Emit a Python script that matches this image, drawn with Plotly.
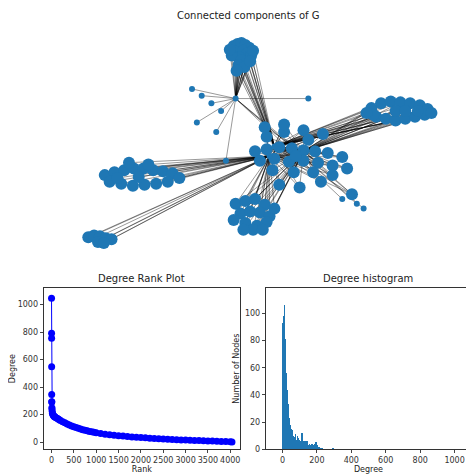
import plotly.graph_objects as go

# ---------- Network (approximate node positions, pixel-like coords) ----------
cluster_top_x = [228,232,236,240,244,230,238,242,234,226,246,236,233,239,224,248,231,245]
cluster_top_y = [40,38,37,39,42,46,45,48,52,50,50,55,60,62,44,45,66,56]
cluster_right_x = [370,380,390,400,410,420,428,375,385,395,405,415,425,395,405,372,432,365,418]
cluster_right_y = [105,100,98,99,100,102,106,114,116,118,116,114,112,108,108,112,110,110,108]
cluster_center_x = [250,262,275,288,300,312,325,340,255,270,285,300,315,330,345,268,290,310,330,262,280,300,320,275,296,318,260,280,350,305,292]
cluster_center_y = [150,148,146,147,149,150,152,156,160,158,161,160,162,165,168,170,172,172,175,135,130,128,132,185,188,182,125,122,195,138,155]
cluster_left_x = [95,105,115,125,135,145,155,165,100,112,124,136,148,160,172,120,140,130,108]
cluster_left_y = [175,172,170,168,168,170,171,173,182,184,186,185,184,182,178,162,164,177,178]
cluster_bottom_x = [230,240,250,260,235,245,255,265,240,252,262,248,270,228,238,258]
cluster_bottom_y = [205,202,200,206,215,213,214,218,225,228,224,232,210,222,232,232]
cluster_small_x = [78,84,90,96,102,88,94]
cluster_small_y = [240,238,239,241,242,245,246]
cluster_mid_x = [185,195,205,215,190,210,340,355,362,350,305,220]
cluster_mid_y = [85,92,100,108,120,130,200,205,210,195,95,160]

# hub nodes (high degree) and the clusters they link to
hub_x = [265,270,300,230]
hub_y = [155,145,150,95]
hub_links = [["left","bottom","center","small"],["center","right","top"],["right","bottom","center"],["top","mid"]]

# ---------- Degree rank (rank, degree) ----------
rank_x = [0,1,2,3,4,5,6,8,10,15,20,30,40,50,65,80,100,125,150,175,200,250,300,350,400,450,500,550,600,650,700,750,800,850,900,950,1000,1100,1200,1300,1400,1500,1600,1700,1800,1900,2000,2100,2200,2300,2400,2500,2600,2700,2800,2900,3000,3100,3200,3300,3400,3500,3600,3700,3800,3900,4000,4038]
rank_deg = [1045,792,755,547,347,294,291,250,240,225,210,200,195,190,185,182,178,173,168,163,158,148,140,132,125,118,112,106,100,95,90,86,82,78,75,71,68,62,57,53,50,47,44,41,38,35,33,31,29,27,25,23,21,19,18,16,15,13,12,11,10,9,8,6,5,4,3,1]

# ---------- Degree histogram ----------
hist_deg = [1,5,9,13,17,21,25,29,33,37,41,45,49,53,57,61,65,69,73,77,81,85,89,93,97,101,105,109,113,117,121,125,129,133,137,141,145,149,153,157,161,165,169,173,177,181,185,189,193,197,201,205,209,213,221,229,293]
hist_cnt = [93,98,106,81,72,56,40,44,33,23,20,18,15,12,14,10,9,8,11,7,6,10,8,5,7,6,4,5,12,6,4,5,6,3,4,6,5,3,2,4,3,2,4,3,2,3,4,2,5,2,3,2,1,2,1,1,1]

clusters = {
    "top": (cluster_top_x, cluster_top_y), "right": (cluster_right_x, cluster_right_y),
    "center": (cluster_center_x, cluster_center_y), "left": (cluster_left_x, cluster_left_y),
    "bottom": (cluster_bottom_x, cluster_bottom_y), "small": (cluster_small_x, cluster_small_y),
    "mid": (cluster_mid_x, cluster_mid_y),
}

fig = go.Figure()
ex, ey = [], []
for hx, hy, links in zip(hub_x, hub_y, hub_links):
    for name in links:
        cx, cy = clusters[name]
        for x, y in zip(cx, cy):
            ex += [hx, x, None]; ey += [hy, y, None]
fig.add_trace(go.Scatter(x=ex, y=ey, mode="lines", line=dict(color="rgba(0,0,0,0.5)", width=0.8),
                         xaxis="x", yaxis="y", hoverinfo="skip", showlegend=False))
for name, (cx, cy) in clusters.items():
    size = 6 if name == "mid" else 12
    fig.add_trace(go.Scatter(x=cx, y=cy, mode="markers", marker=dict(color="#1f77b4", size=size),
                             xaxis="x", yaxis="y", showlegend=False))
fig.add_trace(go.Scatter(x=hub_x, y=hub_y, mode="markers", marker=dict(color="#1f77b4", size=6),
                         xaxis="x", yaxis="y", showlegend=False))

fig.add_trace(go.Scatter(x=rank_x, y=rank_deg, mode="lines+markers", line=dict(color="blue", width=1),
                         marker=dict(color="blue", size=7), xaxis="x2", yaxis="y2", showlegend=False))
fig.add_trace(go.Bar(x=hist_deg, y=hist_cnt, width=2.6, marker=dict(color="#1f77b4", line=dict(width=0)),
                     xaxis="x3", yaxis="y3", showlegend=False))

ax = dict(showline=True, mirror=True, linecolor="#333", ticks="outside", ticklen=3, showgrid=False,
          zeroline=False, tickangle=0, tickfont=dict(size=8, color="#333"))
bot = 1 - 446/474
top = 1 - 283/474
fig.update_layout(
    width=474, height=474, margin=dict(l=0, r=0, t=0, b=0), paper_bgcolor="white", plot_bgcolor="white",
    font=dict(family="DejaVu Sans", size=9, color="#222"), bargap=0,
    xaxis=dict(domain=[0.08, 0.95], range=[40, 460], visible=False),
    yaxis=dict(domain=[0.46, 0.96], range=[265, 20], visible=False),
    xaxis2=dict(ax, domain=[30/474, 229/474], range=[-177, 4220], tickvals=list(range(0, 4001, 500)),
                title=dict(text="Rank", font=dict(size=8), standoff=0), anchor="y2"),
    yaxis2=dict(ax, domain=[bot, top], range=[-52, 1120], tickvals=list(range(0, 1001, 200)),
                title=dict(text="Degree", font=dict(size=8), standoff=4), anchor="x2"),
    xaxis3=dict(ax, domain=[255/474, 463/474], range=[-97, 1096], tickvals=list(range(0, 1001, 200)),
                title=dict(text="Degree", font=dict(size=8), standoff=0), anchor="y3"),
    yaxis3=dict(ax, domain=[bot, top], range=[0, 118.8], tickvals=list(range(0, 101, 20)),
                title=dict(text="Number of Nodes", font=dict(size=8), standoff=4), anchor="x3"),
    annotations=[
        dict(text="Connected components of G", x=0.5, y=1-8/474, xref="paper", yref="paper", showarrow=False,
             font=dict(size=10, color="#222"), yanchor="middle", xanchor="center"),
        dict(text="Degree Rank Plot", x=(30+229)/2/474, y=1-281/474, xref="paper", yref="paper", showarrow=False,
             font=dict(size=10, color="#222"), yanchor="bottom", xanchor="center"),
        dict(text="Degree histogram", x=(255+463)/2/474, y=1-281/474, xref="paper", yref="paper", showarrow=False,
             font=dict(size=10, color="#222"), yanchor="bottom", xanchor="center"),
    ],
)
fig.write_html("out.html")
